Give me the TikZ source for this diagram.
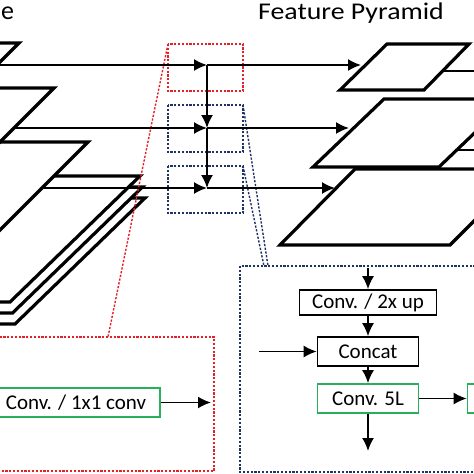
\documentclass[tikz,border=0pt]{standalone}
\usepackage{fontspec}
\setmainfont{Carlito}
\usetikzlibrary{arrows.meta}
\definecolor{zoomred}{RGB}{228,32,40}
\definecolor{zoomblue}{RGB}{30,50,100}
\definecolor{convgreen}{RGB}{40,175,90}
\tikzset{
  fmap/.style={draw=black,fill=white,line width=3.2pt},
  flow/.style={line width=1.8pt,-{Latex[length=13pt,width=12pt]}},
  zoombox/.style={line width=1.4pt,dash pattern=on 2.2pt off 1.6pt},
  opbox/.style={draw=black,line width=1.6pt,fill=white,minimum height=29pt,inner sep=0pt,font=\fontsize{21}{24}\selectfont},
  convbox/.style={opbox,draw=convgreen}
}
\begin{document}
\begin{tikzpicture}[x=1pt,y=-1pt]
   \useasboundingbox (0,0) rectangle (474,474);
   \clip (0,0) rectangle (474,474);

   % backbone maps, back to front
   \foreach \k in {2,1,0}
     \draw[fmap,shift={(2.5*\k,11*\k)}] (-200,176) -- (140,176) -- (10,302) -- (-200,302) -- cycle;
   \draw[fmap] (-200,142) -- (88,142) -- (-5,235) -- (-200,235) -- cycle;
   \draw[fmap] (-200,88) -- (54,88) -- (-8,150) -- (-200,150) -- cycle;
   \draw[fmap] (-200,43) -- (19,43) -- (-21,83) -- (-200,83) -- cycle;

   % pyramid maps
   \draw[line width=1.8pt] (440,150) -- (480,150);
   \draw[fmap] (280,245) -- (355,169) -- (526,169) -- (450,245) -- cycle;
   \draw[line width=1.8pt] (430,71) -- (480,71);
   \draw[fmap] (313,167) -- (384,99) -- (510,99) -- (439,167) -- cycle;
   \draw[fmap] (340,90) -- (387,44) -- (469,44) -- (424,90) -- cycle;

   \node[anchor=base,inner sep=0pt,font=\fontsize{24}{28}\selectfont] (title) at (351,19) {\scalebox{1.16}[1]{Feature Pyramid}};
   \node[anchor=base west,inner sep=0pt,font=\fontsize{26}{30}\selectfont] (cut) at (1,19) {e};

   % zoom frames
   \draw[zoombox,zoomred] (168,44) rectangle (243,91);
   \draw[zoombox,zoomblue] (168,105) rectangle (243,152);
   \draw[zoombox,zoomblue] (168,166) rectangle (243,213);
   \draw[zoombox,zoomred] (-5,337) rectangle (214,471);
   \draw[zoombox,zoomblue] (240,266) rectangle (490,472);
   \draw[zoombox,zoomred] (168,44) -- (108,337);
   \draw[zoombox,zoomblue] (243,105) -- (268,266);
   \draw[zoombox,zoomblue] (243,166) -- (264,266);

   \coordinate (b1) at (-5,65);
   \coordinate (b2) at (14,128);
   \coordinate (b3) at (42,188);
   \coordinate (j1) at (207,65);
   \coordinate (j2) at (207,128);
   \coordinate (j3) at (207,188);
   \coordinate (p1) at (361,65);
   \coordinate (p2) at (349,128);
   \coordinate (p3) at (335,188);

   \draw[flow] (b1) -- (j1);
   \draw[flow] (b2) -- (j2);
   \draw[flow] (b3) -- (j3);
   \draw[flow] (j1) -- (j2);
   \draw[flow] (j2) -- (j3);
   \draw[flow] (j1) -- (p1);
   \draw[flow] (j2) -- (p2);
   \draw[flow] (j3) -- (p3);

   % inside the frames
   \node[convbox,minimum width=168pt] (lat) at (76,402.5) {Conv. / 1x1 conv};
   \node[opbox,minimum width=137pt,minimum height=25pt] (up) at (368,302.5) {Conv. / 2x up};
   \node[opbox,minimum width=101pt] (cat) at (368,351.5) {Concat};
   \node[convbox,minimum width=101pt] (c5) at (368,398.5) {Conv. 5L};
   \node[convbox,minimum width=101pt] (nxt) at (518,398.5) {};

   \coordinate (latout) at (211,402.5);
   \coordinate (upin) at (368,268);
   \coordinate (catin) at (259,351.5);
   \coordinate (c5out) at (368,451);

   \draw[flow] (lat) -- (latout);
   \draw[flow] (upin) -- (up);
   \draw[flow] (up) -- (cat);
   \draw[flow] (catin) -- (cat);
   \draw[flow] (cat) -- (c5);
   \draw[flow] (c5) -- (nxt);
   \draw[flow] (c5) -- (c5out);
\end{tikzpicture}
\end{document}
